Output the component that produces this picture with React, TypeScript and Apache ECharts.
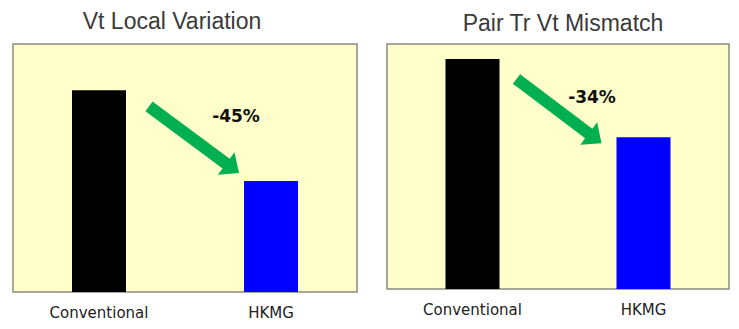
import React, { useEffect, useRef } from "react";
import * as echarts from "echarts";

const categories = ["Conventional", "HKMG"];
const titles = ["Vt Local Variation", "Pair Tr Vt Mismatch"];
const localVariation = [100, 55];
const pairMismatch = [100, 66];
const axisMax = [123, 106.5];

// layout (pixels)
const grids = [
  { left: 13, right: 382, top: 44, bottom: 37 },
  { left: 387, right: 10, top: 44, bottom: 40 },
];
const titlePos = [
  { x: 172, y: 21 },
  { x: 563, y: 23 },
];
const arrowTailOff = [
  [23, 16],
  [17, 20],
];
const arrowTipOff = [
  [-5, -8],
  [-15, 6],
];
const labelOff = [
  [42, -24],
  [33, -14],
];
const BAR_W = 54;

function arrowPoints(t: number[], p: number[], w: number, hw: number, hl: number) {
  const dx = p[0] - t[0];
  const dy = p[1] - t[1];
  const len = Math.sqrt(dx * dx + dy * dy);
  const ux = dx / len;
  const uy = dy / len;
  const nx = -uy;
  const ny = ux;
  const bx = p[0] - ux * hl;
  const by = p[1] - uy * hl;
  return [
    [t[0] + (nx * w) / 2, t[1] + (ny * w) / 2],
    [bx + (nx * w) / 2, by + (ny * w) / 2],
    [bx + (nx * hw) / 2, by + (ny * hw) / 2],
    [p[0], p[1]],
    [bx - (nx * hw) / 2, by - (ny * hw) / 2],
    [bx - (nx * w) / 2, by - (ny * w) / 2],
    [t[0] - (nx * w) / 2, t[1] - (ny * w) / 2],
  ];
}

export default function App() {
  const ref = useRef<HTMLDivElement>(null);
  useEffect(() => {
    if (!ref.current) return;
    const chart = echarts.init(ref.current, null, { renderer: "svg" });
    const seriesData = [localVariation, pairMismatch];
    const barColors = ["#000000", "#0000ff"];
    chart.setOption({
      animation: false,
      backgroundColor: "#ffffff",
      grid: grids.map((g) => ({
        ...g,
        show: true,
        backgroundColor: "#ffffcc",
        borderColor: "#8a8a80",
        borderWidth: 1.5,
        containLabel: false,
      })),
      xAxis: [0, 1].map((i) => ({
        type: "category",
        gridIndex: i,
        data: categories,
        axisLine: { show: false },
        axisTick: { show: false },
        axisLabel: {
          margin: 13,
          fontSize: 15,
          fontFamily: "DejaVu Sans",
          color: "#222",
        },
      })),
      yAxis: [0, 1].map((i) => ({
        type: "value",
        gridIndex: i,
        min: 0,
        max: axisMax[i],
        show: false,
        splitLine: { show: false },
      })),
      series: [0, 1].map((i) => ({
        type: "bar",
        xAxisIndex: i,
        yAxisIndex: i,
        barWidth: BAR_W,
        data: seriesData[i].map((v, j) => ({
          value: v,
          itemStyle: { color: barColors[j] },
        })),
      })),
    });

    const graphics: any[] = [];
    [0, 1].forEach((i) => {
      const d = seriesData[i];
      const finder = { xAxisIndex: i, yAxisIndex: i };
      const p0 = chart.convertToPixel(finder as any, [0, d[0]]) as number[];
      const p1 = chart.convertToPixel(finder as any, [1, d[1]]) as number[];
      const tail = [p0[0] + BAR_W / 2 + arrowTailOff[i][0], p0[1] + arrowTailOff[i][1]];
      const tip = [p1[0] - BAR_W / 2 + arrowTipOff[i][0], p1[1] + arrowTipOff[i][1]];
      graphics.push({
        type: "polygon",
        shape: { points: arrowPoints(tail, tip, 12, 28, 16) },
        style: { fill: "#00b050" },
      });
      const pct = Math.round(((d[1] - d[0]) / d[0]) * 100);
      const mid = [(tail[0] + tip[0]) / 2, (tail[1] + tip[1]) / 2];
      graphics.push({
        type: "text",
        x: mid[0] + labelOff[i][0],
        y: mid[1] + labelOff[i][1],
        style: {
          text: `${pct}%`,
          fontSize: 17,
          fontWeight: "bold",
          fontFamily: "DejaVu Sans",
          fill: "#111",
          align: "center",
          verticalAlign: "middle",
        },
      });
      graphics.push({
        type: "text",
        x: titlePos[i].x,
        y: titlePos[i].y,
        style: {
          text: titles[i],
          fontSize: 23,
          fontFamily: "Liberation Sans",
          fill: "#3a3a3a",
          align: "center",
          verticalAlign: "middle",
        },
      });
    });
    chart.setOption({ graphic: graphics });
    return () => chart.dispose();
  }, []);
  return (
    <div
      ref={ref}
      style={{ position: "fixed", left: 0, top: 0, width: 739, height: 329 }}
    />
  );
}
